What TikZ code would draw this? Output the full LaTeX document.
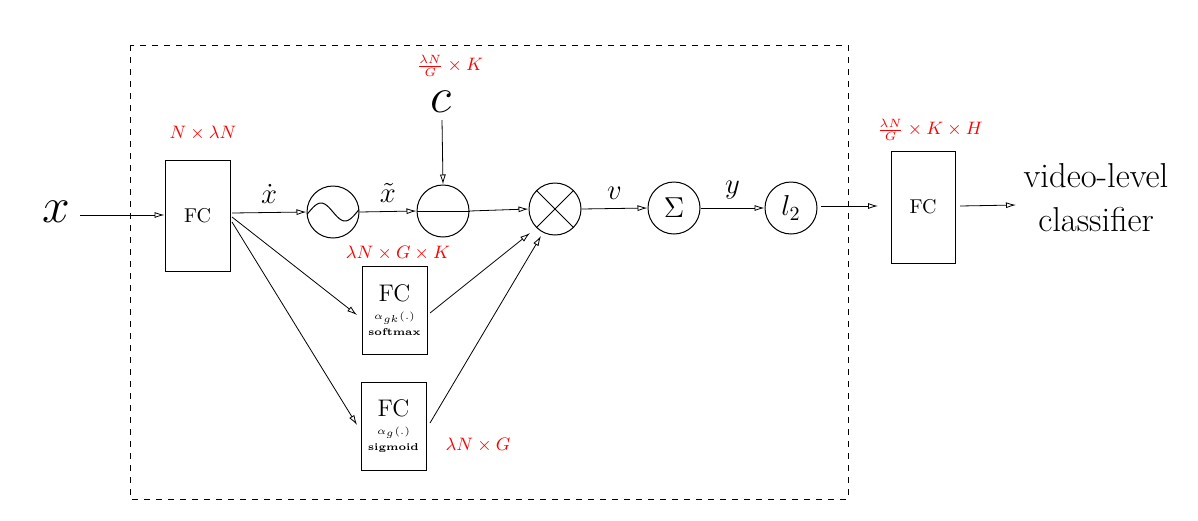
\documentclass[tikz,border=0pt]{standalone}
\usepackage{amsmath}
\usetikzlibrary{arrows.meta}
\begin{document}
\begin{tikzpicture}[x=0.5pt,y=-0.5pt,
  arr/.style={-{Latex[open,length=5pt,width=3pt]},line width=0.4pt},
  box/.style={draw,line width=0.5pt,inner sep=0pt},
  op/.style={draw,circle,minimum size=26pt,inner sep=0pt,line width=0.5pt},
  red/.style={text=red,font=\small},
  lab/.style={above=1pt,font=\Large},
  txt/.style={inner sep=0pt}]
\useasboundingbox (0,0) rectangle (1198,520);
\draw[dashed] (130,45) rectangle (848,499);
\node[txt,font=\Huge] (x) at (56,212) {$x$};
\node[box,minimum width=32.5pt,minimum height=55.5pt] (fc1) at (197.5,215.5) {FC};
\node[red] (l1) at (203,133) {$N\times\lambda N$};
\node[op] (sin) at (333,212) {};
\draw[line width=0.5pt] plot[domain=-26:26,samples=40,smooth] ({333+\x},{212+9*sin(\x*180/24)});
\node[op] (mn) at (443,211) {};
\draw (mn.west) -- (mn.east);
\node[op] (mul) at (555,209) {};
\draw (mul.north west) -- (mul.south east) (mul.north east) -- (mul.south west);
\node[op,font=\Large] (sum) at (674,208) {$\Sigma$};
\node[op,font=\Large] (l2) at (791,208) {$l_2$};
\node[box,minimum width=32pt,minimum height=56pt] (fc2) at (923,207) {FC};
\node[red] at (930,130) {$\frac{\lambda N}{G}\times K\times H$};
\node[font=\LARGE,align=center,inner sep=0pt] (vl) at (1096,198) {video-level\\classifier};
\node[txt,font=\Huge] (c) at (441,102) {$c$};
\node[red] at (450,66) {$\frac{\lambda N}{G}\times K$};
\node[box,minimum width=32.5pt,minimum height=44pt,align=center] (sm) at (394.5,310) {\large FC\\[-3pt]{\tiny$\alpha_{gk}(.)$}\\[-4pt]{\tiny\bfseries softmax}};
\node[red] at (398,253) {$\lambda N\times G\times K$};
\node[box,minimum width=32.5pt,minimum height=44pt,align=center] (sg) at (393.5,426) {\large FC\\[-3pt]{\tiny$\alpha_{g}(.)$}\\[-4pt]{\tiny\bfseries sigmoid}};
\node[red] at (478,445) {$\lambda N\times G$};
\coordinate (x0) at (80,215);
\coordinate (fo) at (232,213);
\coordinate (c0) at (442,120);
\coordinate (l2o) at (821,206);
\coordinate (fc2i) at (878,206);
\coordinate (fc2o) at (960,206);
\coordinate (vli) at (1016,205);
\coordinate (a1) at (232,217);
\coordinate (a2) at (232,222);
\coordinate (smi) at (357,315);
\coordinate (sgi) at (357,425);
\coordinate (smo) at (430,313);
\coordinate (sgo) at (430,423);
\coordinate (m1) at (530,233);
\coordinate (m2) at (541,236);
\draw[arr] (x0) -- (fc1.west|-x0);
\draw[arr] (fo) -- (sin.west) node[midway,lab] {$\dot{x}$};
\draw[arr] (sin.east) -- (mn.west) node[midway,lab] {$\tilde{x}$};
\draw[arr] (c0) -- (mn.north);
\draw[arr] (mn.east) -- (mul.west);
\draw[arr] (mul.east) -- (sum.west) node[midway,lab] {$v$};
\draw[arr] (sum.east) -- (l2.west) node[midway,lab] {$y$};
\draw[arr] (l2o) -- (fc2i);
\draw[arr] (fc2o) -- (vli);
\draw[arr] (a1) -- (smi);
\draw[arr] (a2) -- (sgi);
\draw[arr] (smo) -- (m1);
\draw[arr] (sgo) -- (m2);
\end{tikzpicture}
\end{document}
